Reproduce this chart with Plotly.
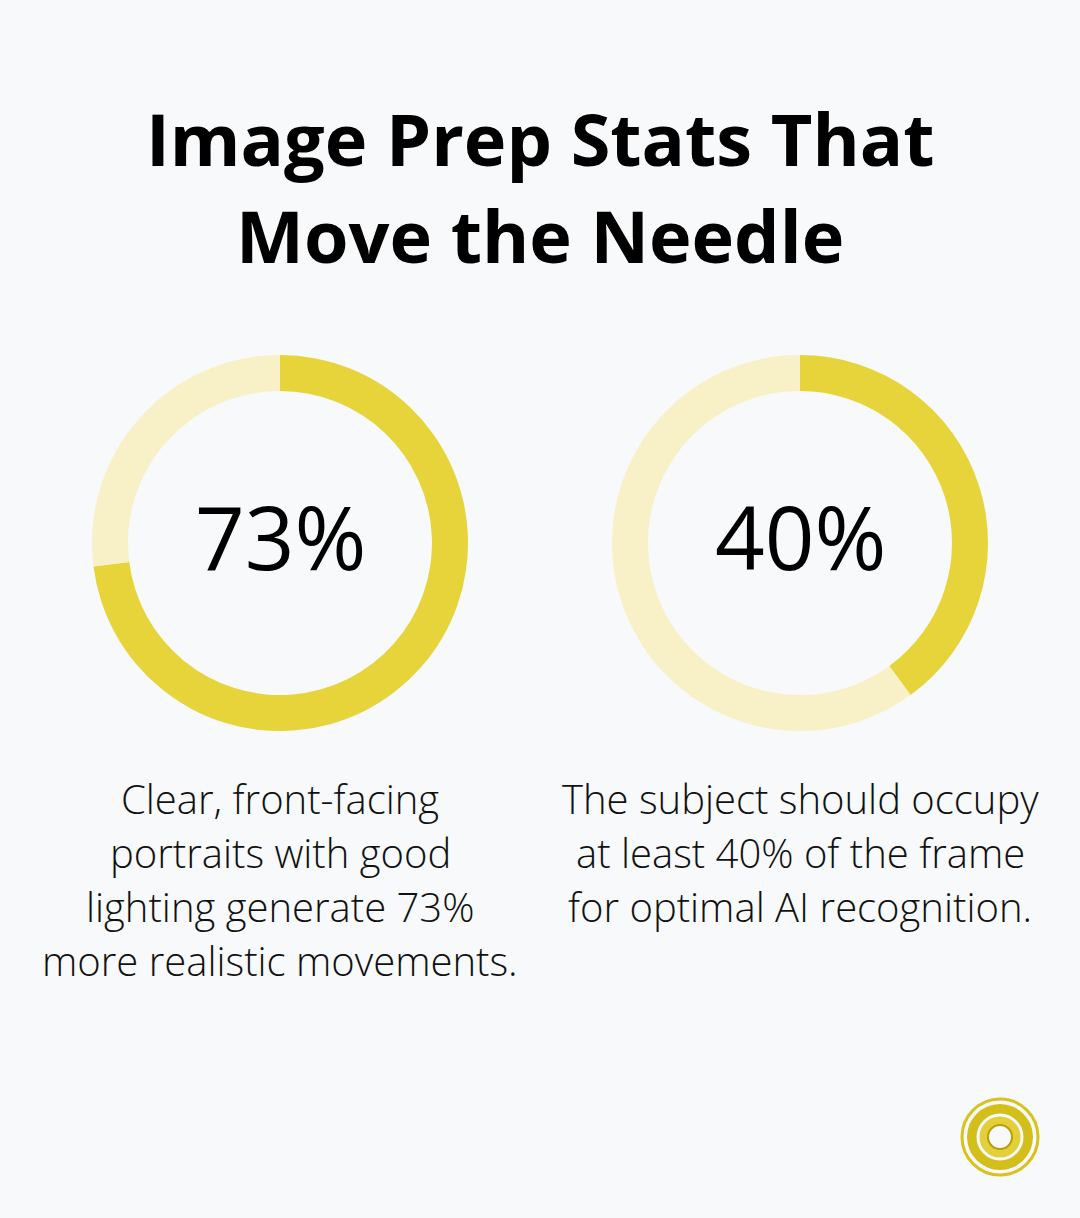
import plotly.graph_objects as go

# Data
stat_labels = ["73%", "40%"]
stat_values = [73, 40]
descriptions = [
    ["Clear, front-facing", "portraits with good", "lighting generate 73%", "more realistic movements."],
    ["The subject should occupy", "at least 40% of the frame", "for optimal AI recognition."],
]
title_lines = ["Image Prep Stats That", "Move the Needle"]

W, H = 1080, 1218
BG = "#F7F9FA"
DARK = "#E6D43A"
LIGHT = "#F8F1C7"

centers_x = [280, 800]
center_y = 543
r_out = 188


def py(y):
    return (H - y) / H


fig = go.Figure()
for i, (v, cx) in enumerate(zip(stat_values, centers_x)):
    fig.add_trace(go.Pie(
        values=[v, 100 - v],
        labels=["value", "rest"],
        marker=dict(colors=[DARK, LIGHT], line=dict(width=0)),
        hole=152 / 188,
        sort=False,
        direction="clockwise",
        rotation=0,
        textinfo="none",
        hoverinfo="skip",
        showlegend=False,
        domain=dict(x=[(cx - r_out) / W, (cx + r_out) / W],
                    y=[py(center_y + r_out), py(center_y - r_out)]),
    ))
    fig.add_annotation(x=cx / W, y=py(536), xref="paper", yref="paper",
                       text=stat_labels[i], showarrow=False, xanchor="center", yanchor="middle",
                       font=dict(family="Open Sans", size=87, color="#000000", weight=500))
    for j, line in enumerate(descriptions[i]):
        fig.add_annotation(x=cx / W, y=py(798 + 54 * j), xref="paper", yref="paper",
                           text=line, showarrow=False, xanchor="center", yanchor="middle",
                           font=dict(family="Open Sans", size=40, color="#111111", weight=300))

for j, line in enumerate(title_lines):
    fig.add_annotation(x=0.5, y=py(138 + 97 * j), xref="paper", yref="paper",
                       text=line, showarrow=False, xanchor="center", yanchor="middle",
                       font=dict(family="Open Sans", size=72, color="#000000", weight=700))

# logo (approximate gold emblem)
lx, ly = 1000, 1137


def circ(r, line_color, lw, fill):
    return dict(type="circle", xref="paper", yref="paper",
                x0=(lx - r) / W, x1=(lx + r) / W, y0=py(ly + r), y1=py(ly - r),
                line=dict(color=line_color, width=lw), fillcolor=fill)


shapes = [
    circ(38, "#D9C21E", 3, "rgba(0,0,0,0)"),
    circ(33, "#C9AE10", 0, "#D4BE1A"),
    circ(22, BG, 3, "#E2CF3A"),
    circ(12, "#B89E08", 2, BG),
]
fig.update_layout(
    width=W, height=H,
    margin=dict(l=0, r=0, t=0, b=0),
    paper_bgcolor=BG, plot_bgcolor=BG,
    shapes=shapes,
)
fig.write_html("out.html")
